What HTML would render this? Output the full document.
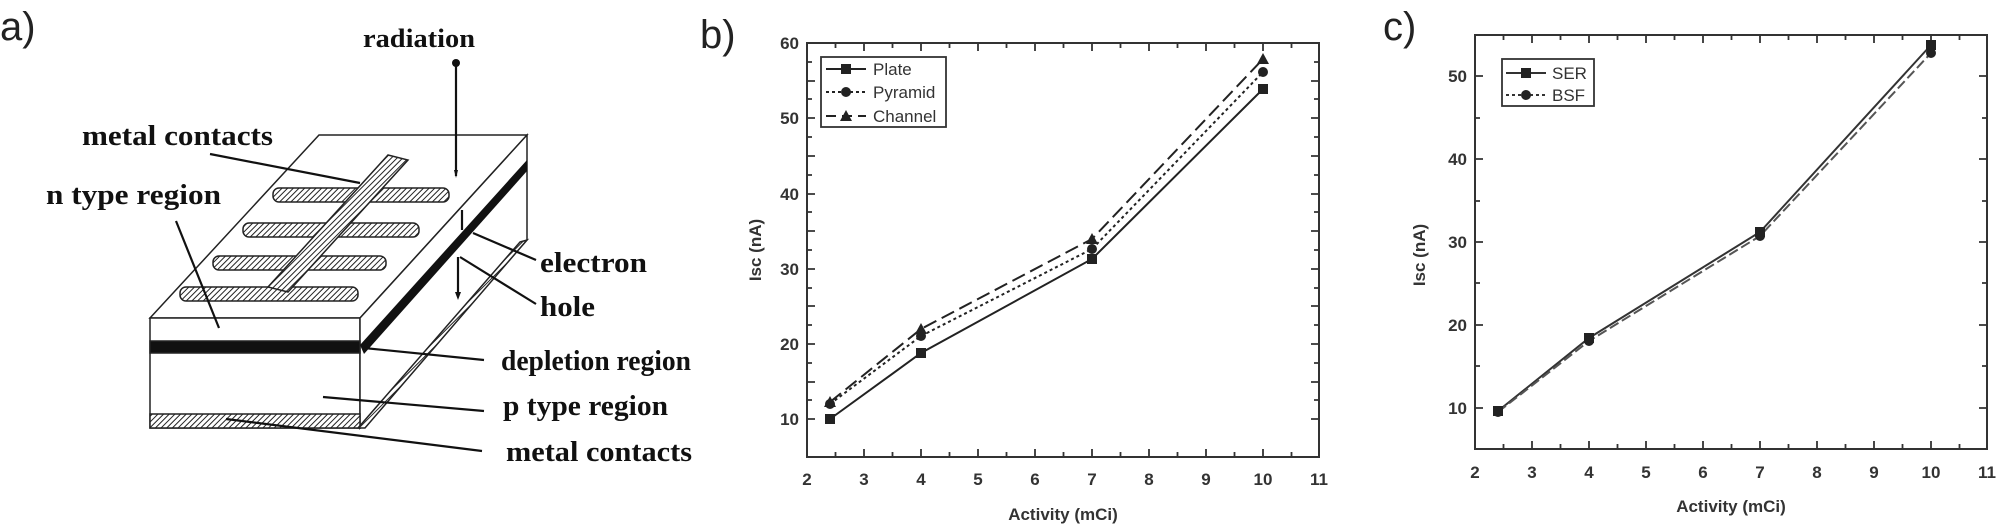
<!DOCTYPE html>
<html><head><meta charset="utf-8"><style>
html,body{margin:0;padding:0;background:#fff;}
svg{display:block;}
.ser{font-family:"Liberation Serif",serif;font-weight:bold;fill:#111;}
.tk{font-family:"Liberation Sans",sans-serif;font-weight:bold;font-size:17px;fill:#333;}
.lg{font-family:"Liberation Sans",sans-serif;font-size:17px;fill:#333;}
.pl{font-family:"Liberation Sans",sans-serif;font-size:40px;fill:#222;}
</style></head><body>
<svg width="2000" height="527" viewBox="0 0 2000 527" xmlns="http://www.w3.org/2000/svg">
<defs>
<pattern id="h" width="4" height="4" patternUnits="userSpaceOnUse" patternTransform="rotate(45)">
<rect width="4" height="4" fill="#fff"/><line x1="0" y1="0" x2="0" y2="4" stroke="#222" stroke-width="2"/></pattern>
</defs>
<text class="pl" x="0" y="40">a)</text>
<text class="pl" x="700" y="48">b)</text>
<text class="pl" x="1383" y="40">c)</text>

<g stroke="#222" stroke-width="1.5" fill="none">
<polygon points="150,318 360,318 527,135 319,135" fill="#fff"/>
<rect x="150" y="318" width="210" height="110" fill="#fff"/>
<polygon points="360,318 527,135 527,240 360,428" fill="#fff"/>
<rect x="150" y="341" width="210" height="12" fill="#111"/>
<polygon points="360,345 527,160 527,171 364,354" fill="#111" stroke="none"/>
<rect x="150" y="414" width="210" height="14" fill="url(#h)"/>
<polygon points="520,242 527,240 365,428 358,428" fill="url(#h)"/>
<rect x="273" y="188" width="176" height="14" rx="6" fill="url(#h)"/>
<rect x="243" y="223" width="176" height="14" rx="6" fill="url(#h)"/>
<rect x="213" y="256" width="173" height="14" rx="6" fill="url(#h)"/>
<rect x="180" y="287" width="178" height="14" rx="6" fill="url(#h)"/>
<polygon points="388,155 408,160 288,292 268,287" fill="url(#h)"/>
</g>
<g stroke="#111" stroke-width="2.2" fill="none">
<line x1="210" y1="154" x2="360" y2="183"/>
<line x1="176" y1="221" x2="219" y2="328"/>
<line x1="473" y1="233" x2="536" y2="260"/>
<line x1="460" y1="257" x2="536" y2="304"/>
<line x1="364" y1="348" x2="484" y2="360"/>
<line x1="323" y1="397" x2="484" y2="411"/>
<line x1="226" y1="419" x2="482" y2="451"/>
<line x1="456" y1="63" x2="456" y2="176"/>
<line x1="462" y1="210" x2="462" y2="230"/>
<line x1="458" y1="257" x2="458" y2="296"/>
</g>
<circle cx="456" cy="63" r="4" fill="#111"/>
<polygon points="454,170 458,170 456,178" fill="#111"/>
<polygon points="455,292 461,292 458,300" fill="#111"/>
<text class="ser" x="419" y="47" font-size="26" text-anchor="middle" textLength="112" lengthAdjust="spacingAndGlyphs">radiation</text>
<text class="ser" x="82" y="145" font-size="28" textLength="191" lengthAdjust="spacingAndGlyphs">metal contacts</text>
<text class="ser" x="46" y="204" font-size="28" textLength="175" lengthAdjust="spacingAndGlyphs">n type region</text>
<text class="ser" x="540" y="272" font-size="28" textLength="107" lengthAdjust="spacingAndGlyphs">electron</text>
<text class="ser" x="540" y="316" font-size="28" textLength="55" lengthAdjust="spacingAndGlyphs">hole</text>
<text class="ser" x="501" y="370" font-size="28" textLength="190" lengthAdjust="spacingAndGlyphs">depletion region</text>
<text class="ser" x="503" y="415" font-size="28" textLength="165" lengthAdjust="spacingAndGlyphs">p type region</text>
<text class="ser" x="506" y="461" font-size="28" textLength="186" lengthAdjust="spacingAndGlyphs">metal contacts</text>

<g id="b">
<rect x="807" y="43" width="512" height="414" fill="none" stroke="#333" stroke-width="2"/>
<g stroke="#333" stroke-width="1.8">
<path d="M807,457v-8M835.5,457v-5M864,457v-8M892.5,457v-5M921,457v-8M949.5,457v-5M978,457v-8M1006.5,457v-5M1035,457v-8M1063.5,457v-5M1092,457v-8M1120.5,457v-5M1149,457v-8M1177.5,457v-5M1206,457v-8M1234.5,457v-5M1263,457v-8M1291.5,457v-5M1319,457v-8"/>
<path d="M807,43v8M835.5,43v5M864,43v8M892.5,43v5M921,43v8M949.5,43v5M978,43v8M1006.5,43v5M1035,43v8M1063.5,43v5M1092,43v8M1120.5,43v5M1149,43v8M1177.5,43v5M1206,43v8M1234.5,43v5M1263,43v8M1291.5,43v5"/>
<path d="M807,419h8M807,400h5M807,382h8M807,363h5M807,344h8M807,325h5M807,306h8M807,288h5M807,269h8M807,250h5M807,231h8M807,212h5M807,194h8M807,175h5M807,156h8M807,137h5M807,118h8M807,99h5M807,81h8M807,62h5"/>
<path d="M1319,419h-8M1319,400h-5M1319,382h-8M1319,363h-5M1319,344h-8M1319,325h-5M1319,306h-8M1319,288h-5M1319,269h-8M1319,250h-5M1319,231h-8M1319,212h-5M1319,194h-8M1319,175h-5M1319,156h-8M1319,137h-5M1319,118h-8M1319,99h-5M1319,81h-8M1319,62h-5"/>
</g>
<g class="tk" text-anchor="end">
<text x="799" y="425">10</text><text x="799" y="350">20</text><text x="799" y="275">30</text><text x="799" y="200">40</text><text x="799" y="124">50</text><text x="799" y="49">60</text>
</g>
<g class="tk" text-anchor="middle">
<text x="807" y="485">2</text><text x="864" y="485">3</text><text x="921" y="485">4</text><text x="978" y="485">5</text><text x="1035" y="485">6</text><text x="1092" y="485">7</text><text x="1149" y="485">8</text><text x="1206" y="485">9</text><text x="1263" y="485">10</text><text x="1319" y="485">11</text>
</g>
<text class="tk" x="1063" y="520" text-anchor="middle">Activity (mCi)</text>
<text class="tk" transform="translate(761,250) rotate(-90)" text-anchor="middle">Isc (nA)</text>
<g fill="none" stroke="#222" stroke-width="2">
<polyline points="830,419 921,353 1092,259 1263,89"/>
<polyline points="830,404 921,336 1092,249 1263,72" stroke-dasharray="3,3"/>
<polyline points="830,402 921,329 1092,239 1263,59" stroke-dasharray="14,6"/>
</g>
<g fill="#222">
<rect x="825" y="414" width="10" height="10"/><rect x="916" y="348" width="10" height="10"/><rect x="1087" y="254" width="10" height="10"/><rect x="1258" y="84" width="10" height="10"/>
<circle cx="830" cy="404" r="5"/><circle cx="921" cy="336" r="5"/><circle cx="1092" cy="249" r="5"/><circle cx="1263" cy="72" r="5"/>
<polygon points="830,396 836,407 824,407"/><polygon points="921,323 927,334 915,334"/><polygon points="1092,233 1098,244 1086,244"/><polygon points="1263,53 1269,64 1257,64"/>
</g>
<rect x="821" y="57" width="125" height="70" fill="#fff" stroke="#333" stroke-width="1.8"/>
<g stroke="#222" stroke-width="2">
<line x1="826" y1="69" x2="866" y2="69"/>
<line x1="826" y1="92" x2="866" y2="92" stroke-dasharray="3,3"/>
<line x1="826" y1="116" x2="866" y2="116" stroke-dasharray="10,6"/>
</g>
<rect x="841" y="64" width="10" height="10" fill="#222"/>
<circle cx="846" cy="92" r="5" fill="#222"/>
<polygon points="846,110 852,121 840,121" fill="#222"/>
<g class="lg"><text x="873" y="75">Plate</text><text x="873" y="98">Pyramid</text><text x="873" y="122">Channel</text></g>
</g>

<rect x="1475" y="35" width="512" height="414" fill="none" stroke="#333" stroke-width="2"/>
<g stroke="#333" stroke-width="1.8">
<path d="M1475,449v-8M1503.5,449v-5M1532,449v-8M1560.5,449v-5M1589,449v-8M1617.5,449v-5M1646,449v-8M1674.5,449v-5M1703,449v-8M1731.5,449v-5M1760,449v-8M1788.5,449v-5M1817,449v-8M1845.5,449v-5M1874,449v-8M1902.5,449v-5M1931,449v-8M1959.5,449v-5"/>
<path d="M1475,35v8M1503.5,35v5M1532,35v8M1560.5,35v5M1589,35v8M1617.5,35v5M1646,35v8M1674.5,35v5M1703,35v8M1731.5,35v5M1760,35v8M1788.5,35v5M1817,35v8M1845.5,35v5M1874,35v8M1902.5,35v5M1931,35v8M1959.5,35v5"/>
<path d="M1475,408h8M1475,366h5M1475,325h8M1475,283h5M1475,242h8M1475,201h5M1475,159h8M1475,118h5M1475,76h8"/>
<path d="M1987,408h-8M1987,366h-5M1987,325h-8M1987,283h-5M1987,242h-8M1987,201h-5M1987,159h-8M1987,118h-5M1987,76h-8"/>
</g>
<g class="tk" text-anchor="end">
<text x="1467" y="414">10</text><text x="1467" y="331">20</text><text x="1467" y="248">30</text><text x="1467" y="165">40</text><text x="1467" y="82">50</text>
</g>
<g class="tk" text-anchor="middle">
<text x="1475" y="478">2</text><text x="1532" y="478">3</text><text x="1589" y="478">4</text><text x="1646" y="478">5</text><text x="1703" y="478">6</text><text x="1760" y="478">7</text><text x="1817" y="478">8</text><text x="1874" y="478">9</text><text x="1931" y="478">10</text><text x="1987" y="478">11</text>
</g>
<text class="tk" x="1731" y="512" text-anchor="middle">Activity (mCi)</text>
<text class="tk" transform="translate(1425,255) rotate(-90)" text-anchor="middle">Isc (nA)</text>
<g fill="none" stroke="#333" stroke-width="2">
<polyline points="1498,411 1589,338 1760,232 1931,45"/>
<polyline points="1498,412 1589,341 1760,236 1931,53" stroke-dasharray="10,4" stroke="#555"/>
</g>
<g fill="#222">
<rect x="1493" y="406" width="10" height="10"/><rect x="1584" y="333" width="10" height="10"/><rect x="1755" y="227" width="10" height="10"/><rect x="1926" y="40" width="10" height="10"/>
<circle cx="1498" cy="412" r="5"/><circle cx="1589" cy="341" r="5"/><circle cx="1760" cy="236" r="5"/><circle cx="1931" cy="53" r="5"/>
</g>
<rect x="1502" y="59" width="92" height="47" fill="#fff" stroke="#333" stroke-width="1.8"/>
<g stroke="#333" stroke-width="2">
<line x1="1506" y1="73" x2="1546" y2="73"/>
<line x1="1506" y1="95" x2="1546" y2="95" stroke-dasharray="3,3"/>
</g>
<rect x="1521" y="68" width="10" height="10" fill="#222"/>
<circle cx="1526" cy="95" r="5" fill="#222"/>
<g class="lg"><text x="1552" y="79">SER</text><text x="1552" y="101">BSF</text></g>
</svg>
</body></html>
